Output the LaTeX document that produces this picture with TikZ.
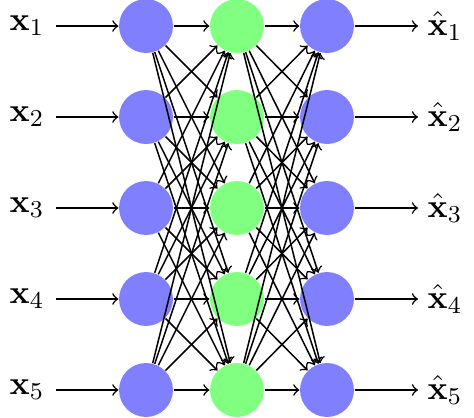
\documentclass[tikz,border=0pt]{standalone}
\usetikzlibrary{arrows}
\begin{document}
\begin{tikzpicture}[x=0.33pt,y=-0.33pt,
  neuronA/.style={circle,fill=blue!50,minimum size=17.8pt,inner sep=0pt},
  neuronB/.style={circle,fill=green!50,minimum size=17.8pt,inner sep=0pt},
  conn/.style={->,line width=0.5pt},
  lab/.style={inner sep=0pt,font=\fontsize{11}{13}\selectfont}]
\useasboundingbox (0,0) rectangle (474,417);
\foreach \i/\y in {1/26,2/117,3/208,4/299,5/390}{
  \node[neuronA] (A\i) at (146,\y) {};
  \node[neuronB] (B\i) at (237,\y) {};
  \node[neuronA] (C\i) at (327,\y) {};
  \node[lab] (X\i) at (27,\y) {$\mathbf{x}_\i$};
  \coordinate (S\i) at (56,\y);
  \coordinate (E\i) at (418,\y);
  \node[lab] (Y\i) at (445,\y) {$\hat{\mathbf{x}}_\i$};
  \draw[conn] (S\i) -- (A\i);
  \draw[conn] (C\i) -- (E\i);
}
\foreach \i in {1,...,5}{
  \foreach \j in {1,...,5}{
    \draw[conn] (A\i) -- (B\j);
    \draw[conn] (B\i) -- (C\j);
  }
}
\end{tikzpicture}
\end{document}
